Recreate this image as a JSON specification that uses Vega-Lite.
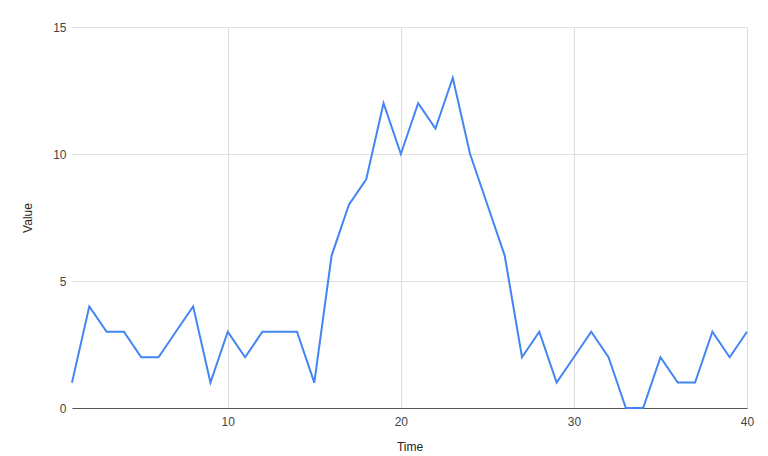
{
  "$schema": "https://vega.github.io/schema/vega-lite/v6.json",
  "width": 675,
  "height": 381,
  "autosize": {"type": "none"},
  "padding": {"left": 72, "top": 27, "right": 21, "bottom": 48},
  "config": {
    "view": {"stroke": null},
    "font": "Liberation Sans",
    "axis": {"labelFont": "Liberation Sans", "titleFont": "Liberation Sans", "labelFontSize": 12, "titleFontSize": 12, "labelColor": "#444444", "titleColor": "#222222", "titleFontWeight": "normal", "ticks": false}
  },
  "data": {"values": [
    {"Time": 1, "Value": 1}, {"Time": 2, "Value": 4}, {"Time": 3, "Value": 3}, {"Time": 4, "Value": 3},
    {"Time": 5, "Value": 2}, {"Time": 6, "Value": 2}, {"Time": 7, "Value": 3}, {"Time": 8, "Value": 4},
    {"Time": 9, "Value": 1}, {"Time": 10, "Value": 3}, {"Time": 11, "Value": 2}, {"Time": 12, "Value": 3},
    {"Time": 13, "Value": 3}, {"Time": 14, "Value": 3}, {"Time": 15, "Value": 1}, {"Time": 16, "Value": 6},
    {"Time": 17, "Value": 8}, {"Time": 18, "Value": 9}, {"Time": 19, "Value": 12}, {"Time": 20, "Value": 10},
    {"Time": 21, "Value": 12}, {"Time": 22, "Value": 11}, {"Time": 23, "Value": 13}, {"Time": 24, "Value": 10},
    {"Time": 25, "Value": 8}, {"Time": 26, "Value": 6}, {"Time": 27, "Value": 2}, {"Time": 28, "Value": 3},
    {"Time": 29, "Value": 1}, {"Time": 30, "Value": 2}, {"Time": 31, "Value": 3}, {"Time": 32, "Value": 2},
    {"Time": 33, "Value": 0}, {"Time": 34, "Value": 0}, {"Time": 35, "Value": 2}, {"Time": 36, "Value": 1},
    {"Time": 37, "Value": 1}, {"Time": 38, "Value": 3}, {"Time": 39, "Value": 2}, {"Time": 40, "Value": 3}
  ]},
  "mark": {"type": "line", "color": "#4285F4", "strokeWidth": 2, "clip": false},
  "encoding": {
    "x": {"field": "Time", "type": "quantitative", "scale": {"domain": [1, 40], "nice": false, "zero": false},
      "axis": {"values": [10, 20, 30, 40], "title": "Time", "domain": true, "domainColor": "#555555", "domainWidth": 1, "gridColor": "#dddddd", "labelPadding": 8, "titleY": 38, "titleBaseline": "middle", "labelFlush": false}},
    "y": {"field": "Value", "type": "quantitative", "scale": {"domain": [0, 15], "nice": false},
      "axis": {"values": [0, 5, 10, 15], "title": "Value", "domain": false, "gridColor": "#e0e0e0", "labelPadding": 6, "titleX": -45, "titleBaseline": "middle"}}
  }
}
